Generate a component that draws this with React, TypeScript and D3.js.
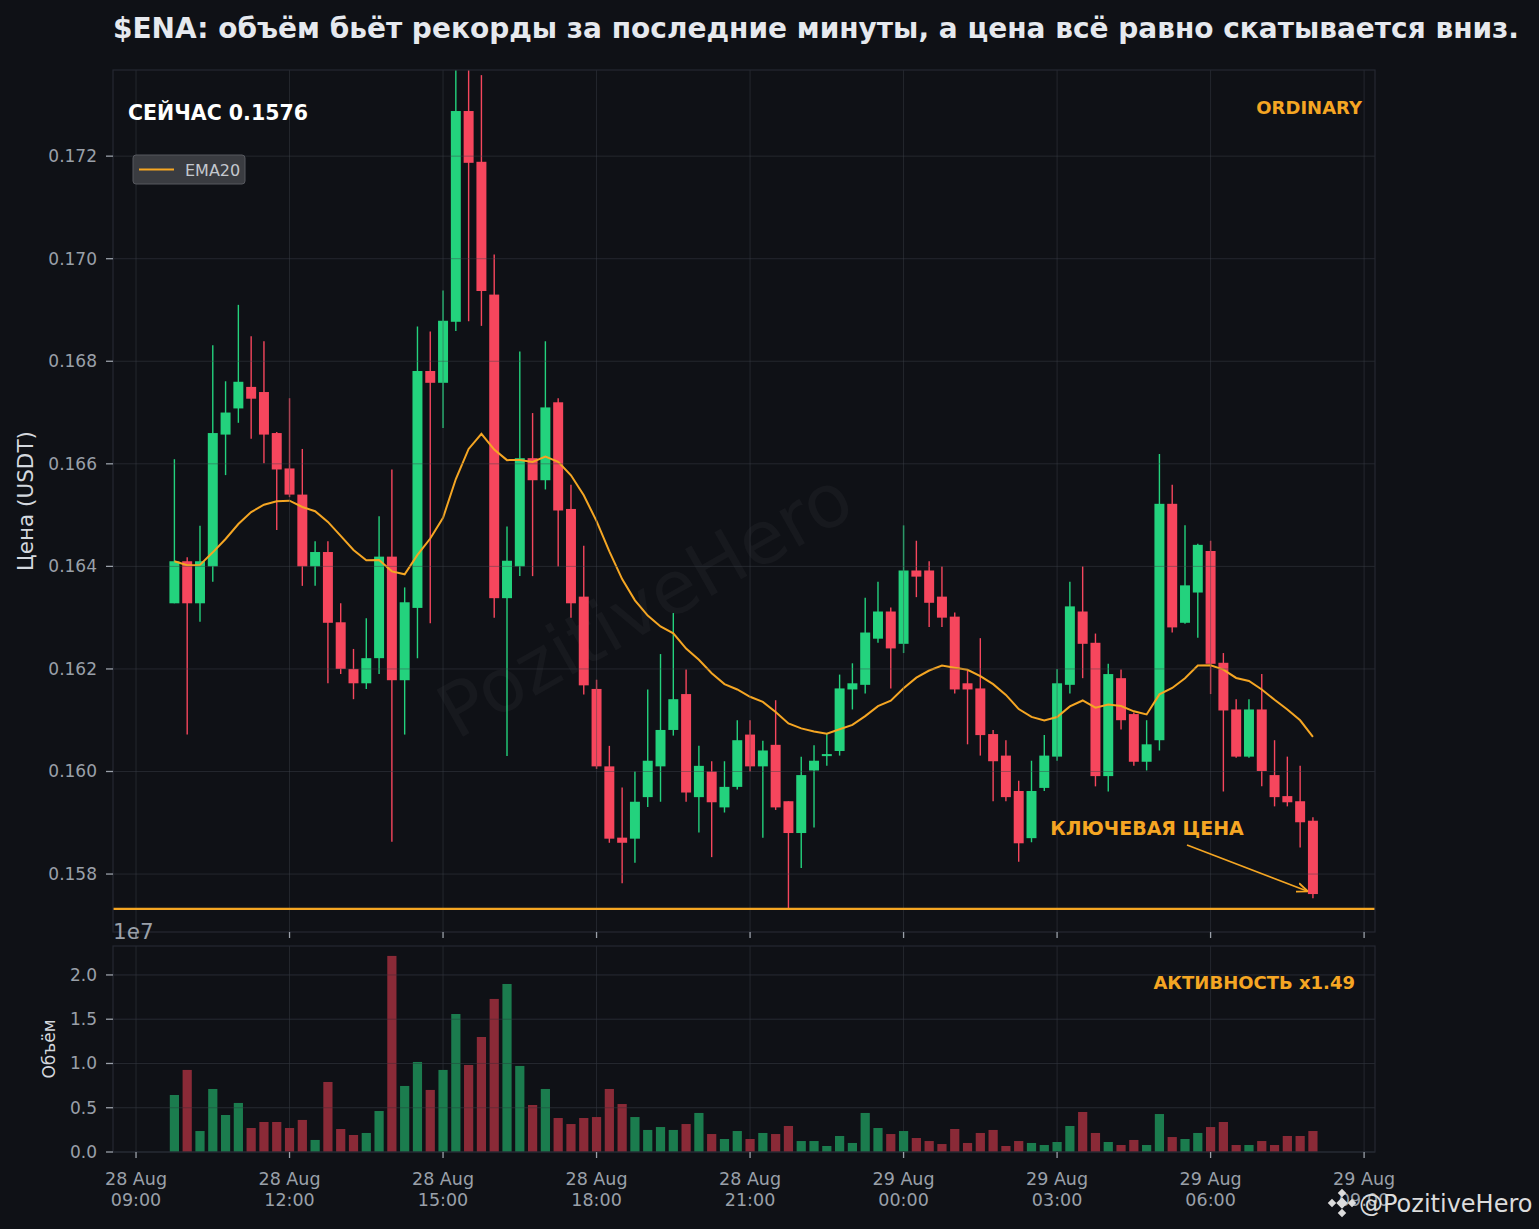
import React from "react";
import * as d3 from "d3";

const OPEN = [0.16328,0.16410,0.16328,0.16400,0.16657,0.16708,0.16750,0.16740,0.16660,0.16591,0.16540,0.16400,0.16428,0.16291,0.16200,0.16172,0.16221,0.16419,0.16178,0.16319,0.16781,0.16758,0.16877,0.17288,0.17189,0.16930,0.16338,0.16400,0.16611,0.16568,0.16720,0.16512,0.16341,0.16161,0.16010,0.15871,0.15869,0.15950,0.16010,0.16081,0.16151,0.15950,0.16000,0.15930,0.15970,0.16072,0.16010,0.16052,0.15942,0.15880,0.16002,0.16030,0.16040,0.16160,0.16169,0.16259,0.16312,0.16249,0.16392,0.16392,0.16341,0.16302,0.16172,0.16162,0.16073,0.16031,0.15962,0.15870,0.15968,0.16029,0.16169,0.16312,0.16251,0.15991,0.16182,0.16112,0.16019,0.16061,0.16522,0.16290,0.16349,0.16430,0.16212,0.16121,0.16029,0.16121,0.15993,0.15952,0.15942,0.15904];
const HIGH = [0.16609,0.16418,0.16479,0.16831,0.16761,0.16910,0.16849,0.16839,0.16662,0.16728,0.16629,0.16449,0.16449,0.16328,0.16239,0.16299,0.16498,0.16589,0.16359,0.16868,0.16858,0.16938,0.17400,0.17380,0.17358,0.17008,0.16478,0.16819,0.16699,0.16839,0.16728,0.16559,0.16440,0.16179,0.16050,0.15969,0.16000,0.16160,0.16229,0.16309,0.16199,0.16050,0.16020,0.16020,0.16100,0.16100,0.16060,0.16139,0.15942,0.16029,0.16051,0.16073,0.16189,0.16211,0.16339,0.16370,0.16320,0.16480,0.16450,0.16410,0.16400,0.16310,0.16196,0.16260,0.16081,0.16061,0.15982,0.16021,0.16071,0.16200,0.16370,0.16400,0.16269,0.16210,0.16199,0.16115,0.16100,0.16619,0.16559,0.16480,0.16444,0.16450,0.16231,0.16141,0.16141,0.16190,0.16061,0.16029,0.16011,0.15911];
const LOW = [0.16328,0.16072,0.16292,0.16370,0.16578,0.16680,0.16649,0.16601,0.16471,0.16535,0.16362,0.16362,0.16172,0.16190,0.16141,0.16161,0.16190,0.15863,0.16072,0.16221,0.16289,0.16670,0.16859,0.16878,0.16869,0.16300,0.16030,0.16381,0.16381,0.16550,0.16400,0.16300,0.16150,0.16005,0.15861,0.15782,0.15822,0.15931,0.15941,0.16070,0.15941,0.15881,0.15833,0.15920,0.15965,0.16000,0.15871,0.15925,0.15732,0.15812,0.15891,0.16011,0.16031,0.16121,0.16152,0.16251,0.16162,0.16231,0.16340,0.16282,0.16282,0.16152,0.16053,0.16031,0.15942,0.15942,0.15824,0.15862,0.15962,0.16021,0.16152,0.16182,0.15971,0.15961,0.16082,0.16011,0.16002,0.16041,0.16271,0.16288,0.16261,0.16151,0.15961,0.16027,0.16027,0.15971,0.15932,0.15932,0.15852,0.15753];
const CLOSE = [0.16410,0.16328,0.16410,0.16660,0.16700,0.16760,0.16727,0.16657,0.16589,0.16540,0.16400,0.16428,0.16290,0.16200,0.16172,0.16221,0.16419,0.16178,0.16330,0.16781,0.16758,0.16879,0.17288,0.17187,0.16937,0.16338,0.16411,0.16611,0.16568,0.16710,0.16509,0.16328,0.16168,0.16010,0.15869,0.15861,0.15941,0.16021,0.16081,0.16141,0.15959,0.16011,0.15940,0.15970,0.16061,0.16010,0.16041,0.15930,0.15880,0.15993,0.16021,0.16034,0.16162,0.16172,0.16271,0.16312,0.16240,0.16392,0.16380,0.16329,0.16300,0.16160,0.16160,0.16071,0.16020,0.15950,0.15860,0.15962,0.16031,0.16172,0.16322,0.16249,0.15991,0.16190,0.16100,0.16019,0.16053,0.16522,0.16281,0.16363,0.16442,0.16210,0.16119,0.16029,0.16121,0.16001,0.15950,0.15940,0.15901,0.15761];
// volume in units of 1e7
const VOLUME = [0.644,0.927,0.237,0.712,0.418,0.554,0.271,0.339,0.339,0.271,0.362,0.136,0.791,0.260,0.192,0.215,0.463,2.215,0.746,1.017,0.701,0.927,1.559,0.983,1.299,1.729,1.898,0.972,0.531,0.712,0.384,0.316,0.384,0.395,0.712,0.542,0.395,0.249,0.282,0.249,0.316,0.441,0.203,0.147,0.237,0.147,0.215,0.203,0.294,0.124,0.124,0.068,0.181,0.102,0.441,0.271,0.203,0.237,0.158,0.124,0.090,0.260,0.102,0.215,0.249,0.068,0.124,0.102,0.079,0.113,0.294,0.452,0.215,0.113,0.079,0.136,0.079,0.429,0.169,0.147,0.215,0.282,0.339,0.079,0.079,0.124,0.079,0.181,0.181,0.237];
const PRICE_TICKS = [0.158,0.160,0.162,0.164,0.166,0.168,0.170,0.172];
const VOLUME_TICKS = [0,0.5,1.0,1.5,2.0];
const TITLE = "$ENA: объём бьёт рекорды за последние минуты, а цена всё равно скатывается вниз.";
const START = Date.UTC(2025,7,28,9,45);
const STEP_MIN = 15;
const EMA_SPAN = 20;

const W = 1539, H = 1229;
const L = 113, R = 1375;
const P_TOP = 70, P_BOT = 932;
const V_TOP = 946, V_BOT = 1152;
const BG = "#0f1116";
const GREEN = "#23d27d", RED = "#f6465d";
const VGREEN = "#1b7c4e", VRED = "#8a2a37";
const ORANGE = "#f5a623";
const TICK = "#9aa0a9";
const FONT = "DejaVu Sans, sans-serif";

export default function App() {
  const times = OPEN.map((_, i) => new Date(START + i * STEP_MIN * 60000));
  const x = d3.scaleUtc()
    .domain([new Date(Date.UTC(2025,7,28,8,33)), new Date(Date.UTC(2025,7,29,9,12,47))])
    .range([L, R]);
  const y = d3.scaleLinear().domain([0.15687, 0.17368]).range([P_BOT, P_TOP]);
  const yv = d3.scaleLinear().domain([0, 2.327]).range([V_BOT, V_TOP]);
  const step = x(times[1]) - x(times[0]);
  const bw = step * 0.78;
  const vbw = step * 0.72;

  const alpha = 2 / (EMA_SPAN + 1);
  const ema: number[] = [];
  CLOSE.forEach((c, i) => ema.push(i === 0 ? c : ema[i - 1] + alpha * (c - ema[i - 1])));
  const emaPath = d3.line<number>().x((_, i) => x(times[i])).y((d) => y(d))(ema) || "";

  const xTicks = d3.utcHour.every(3)!.range(new Date(Date.UTC(2025,7,28,9)), new Date(Date.UTC(2025,7,29,9,1)));
  const fDay = d3.utcFormat("%d %b");
  const fHour = d3.utcFormat("%H:%M");
  const keyPrice = d3.min(LOW)!;
  const last = CLOSE.length - 1;

  const grid = "rgba(62,66,76,0.45)";

  return (
    <div style={{ position: "absolute", left: 0, top: 0 }}>
      <svg width={W} height={H} style={{ display: "block", background: BG }} fontFamily={FONT}>
        <rect x={0} y={0} width={W} height={H} fill={BG} />
        <text x={113} y={38} fill="#e6e9ee" fontSize={28} fontWeight="bold">{TITLE}</text>

        {/* watermark */}
        <text x={645} y={630} textAnchor="middle" fontSize={74} fill="#ffffff" fillOpacity={0.035}
          transform="rotate(-29.5 645 605)">PozitiveHero</text>

        {/* price panel */}
        <clipPath id="pclip"><rect x={L} y={P_TOP} width={R - L} height={P_BOT - P_TOP} /></clipPath>
        <g clipPath="url(#pclip)">
          {times.map((t, i) => {
            const up = CLOSE[i] >= OPEN[i];
            const c = up ? GREEN : RED;
            const cx = x(t);
            const top = y(Math.max(OPEN[i], CLOSE[i]));
            const bot = y(Math.min(OPEN[i], CLOSE[i]));
            return (
              <g key={i}>
                <line x1={cx} x2={cx} y1={y(HIGH[i])} y2={y(LOW[i])} stroke={c} strokeWidth={1.4} />
                <rect x={cx - bw / 2} y={top} width={bw} height={Math.max(1.2, bot - top)} fill={c} />
              </g>
            );
          })}
          <path d={emaPath} fill="none" stroke={ORANGE} strokeWidth={2} />
          {PRICE_TICKS.map((p) => (
            <line key={p} x1={L} x2={R} y1={y(p)} y2={y(p)} stroke={grid} strokeWidth={1} />
          ))}
          {xTicks.map((t) => (
            <line key={+t} x1={x(t)} x2={x(t)} y1={P_TOP} y2={P_BOT} stroke={grid} strokeWidth={1} />
          ))}
          <line x1={L} x2={R} y1={y(keyPrice)} y2={y(keyPrice)} stroke={ORANGE} strokeWidth={2.4} />
        </g>
        <rect x={L} y={P_TOP} width={R - L} height={P_BOT - P_TOP} fill="none" stroke="#252932" strokeWidth={1.2} />
        {PRICE_TICKS.map((p) => (
          <g key={p}>
            <line x1={L - 7} x2={L} y1={y(p)} y2={y(p)} stroke={TICK} strokeWidth={1.3} />
            <text x={L - 16} y={y(p) + 6} textAnchor="end" fill={TICK} fontSize={17}>{d3.format(".3f")(p)}</text>
          </g>
        ))}
        {xTicks.map((t) => (
          <line key={+t} x1={x(t)} x2={x(t)} y1={P_BOT} y2={P_BOT + 6} stroke={TICK} strokeWidth={1.3} />
        ))}
        <text transform={`translate(33,${(P_TOP + P_BOT) / 2}) rotate(-90)`} textAnchor="middle" fill="#d4d8de" fontSize={21.5}>Цена (USDT)</text>

        {/* annotations */}
        <text x={128} y={120} fill="#ffffff" fontSize={20.5} fontWeight="bold">СЕЙЧАС {CLOSE[last].toFixed(4)}</text>
        <text x={1362} y={114} textAnchor="end" fill={ORANGE} fontSize={18} fontWeight="bold">ORDINARY</text>
        <rect x={133} y={155} width={112} height={29} rx={3} fill="#3a3c41" stroke="#56585e" strokeWidth={1} />
        <line x1={139} x2={174} y1={169.5} y2={169.5} stroke={ORANGE} strokeWidth={2} />
        <text x={185} y={175.5} fill="#c4c8ce" fontSize={16}>EMA20</text>
        <text x={1147} y={835} textAnchor="middle" fill={ORANGE} fontSize={19} fontWeight="bold">КЛЮЧЕВАЯ ЦЕНА</text>
        <defs>
          <marker id="ah" viewBox="0 0 10 10" refX={9} refY={5} markerWidth={7} markerHeight={7} orient="auto">
            <path d="M0,1 L10,5 L0,9" fill="none" stroke={ORANGE} strokeWidth={1.6} />
          </marker>
        </defs>
        <line x1={1187} y1={845} x2={x(times[last]) - 6} y2={y(CLOSE[last]) - 3} stroke={ORANGE} strokeWidth={1.6} markerEnd="url(#ah)" />

        {/* volume panel */}
        <g>
          {VOLUME_TICKS.map((v) => (
            <line key={v} x1={L} x2={R} y1={yv(v)} y2={yv(v)} stroke={grid} strokeWidth={1} />
          ))}
          {xTicks.map((t) => (
            <line key={+t} x1={x(t)} x2={x(t)} y1={V_TOP} y2={V_BOT} stroke={grid} strokeWidth={1} />
          ))}
          {times.map((t, i) => (
            <rect key={i} x={x(t) - vbw / 2} y={yv(VOLUME[i])} width={vbw} height={yv(0) - yv(VOLUME[i])}
              fill={CLOSE[i] >= OPEN[i] ? VGREEN : VRED} />
          ))}
          {VOLUME_TICKS.map((v) => (
            <line key={v} x1={L} x2={R} y1={yv(v)} y2={yv(v)} stroke="rgba(40,44,52,0.35)" strokeWidth={1} />
          ))}
        </g>
        <rect x={L} y={V_TOP} width={R - L} height={V_BOT - V_TOP} fill="none" stroke="#252932" strokeWidth={1.2} />
        {VOLUME_TICKS.map((v) => (
          <g key={v}>
            <line x1={L - 7} x2={L} y1={yv(v)} y2={yv(v)} stroke={TICK} strokeWidth={1.3} />
            <text x={L - 16} y={yv(v) + 6} textAnchor="end" fill={TICK} fontSize={17}>{d3.format(".1f")(v)}</text>
          </g>
        ))}
        <text x={113} y={939} fill={TICK} fontSize={21.5}>1e7</text>
        {xTicks.map((t) => (
          <g key={+t}>
            <line x1={x(t)} x2={x(t)} y1={V_BOT} y2={V_BOT + 6} stroke={TICK} strokeWidth={1.3} />
            <text x={x(t)} y={1185} textAnchor="middle" fill={TICK} fontSize={17.5}>{fDay(t)}</text>
            <text x={x(t)} y={1206} textAnchor="middle" fill={TICK} fontSize={17.5}>{fHour(t)}</text>
          </g>
        ))}
        <text transform={`translate(55,${(V_TOP + V_BOT) / 2}) rotate(-90)`} textAnchor="middle" fill="#d4d8de" fontSize={17}>Объём</text>
        <text x={1355} y={989} textAnchor="end" fill={ORANGE} fontSize={18} fontWeight="bold">АКТИВНОСТЬ x1.49</text>

        {/* signature */}
        <g transform="translate(1342,1203)" fill="#dcdcdc">
          <rect x={-4} y={-4} width={8} height={8} transform="rotate(45)" />
          <rect x={-3} y={-13} width={6} height={6} transform="rotate(45 0 -10)" />
          <rect x={-3} y={7} width={6} height={6} transform="rotate(45 0 10)" />
          <rect x={-13} y={-3} width={6} height={6} transform="rotate(45 -10 0)" />
          <rect x={7} y={-3} width={6} height={6} transform="rotate(45 10 0)" />
        </g>
        <text x={1359} y={1212} fill="#dcdcdc" fontSize={24}>@PozitiveHero</text>
      </svg>
    </div>
  );
}
